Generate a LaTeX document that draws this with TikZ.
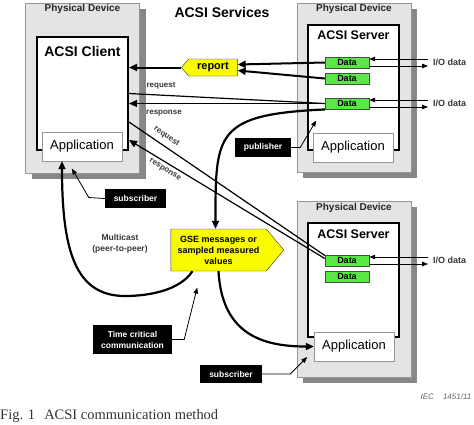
\documentclass[tikz,border=0pt]{standalone}
\usepackage{fontspec}
\setmainfont{Liberation Sans}
\newfontfamily\capfont{Liberation Serif}
\usetikzlibrary{shadows,shapes.symbols}
\usetikzlibrary{arrows.meta}

\definecolor{devgray}{RGB}{228,228,228}
\definecolor{devline}{RGB}{150,150,150}
\definecolor{shadowgray}{RGB}{135,135,135}
\definecolor{datagreen}{RGB}{90,232,70}
\definecolor{gseyellow}{RGB}{250,250,0}
\definecolor{txtgray}{RGB}{55,55,55}

\begin{document}
\begin{tikzpicture}[x=1pt,y=-1pt]
\useasboundingbox (0,0) rectangle (474,424);

\begin{scope}[every node/.style={rectangle,draw=devline,fill=devgray,minimum width=114pt,
              drop shadow={shadow xshift=6pt,shadow yshift=-6pt,fill=shadowgray,opacity=1}}]
    \node [minimum height=170pt] (PD1) at (82.5,88) {};
    \node [minimum height=169pt] (PD2) at (354,87.5) {};
    \node [minimum height=176pt] (PD3) at (354,289) {};
\end{scope}

\begin{scope}[every node/.style={rectangle,draw,line width=2,fill=white,minimum width=91pt}]
    \node [minimum height=113pt] (CL) at (82.5,93.5) {};
    \node [minimum height=125pt] (SV1) at (353.5,87.5) {};
    \node [minimum height=114pt] (SV2) at (353.5,280) {};
\end{scope}

\begin{scope}[every node/.style={rectangle,draw=devline,fill=white,minimum width=80pt,
              minimum height=29pt,font=\fontsize{13}{15}\selectfont}]
    \node (A1) at (82,146.5) {Application};
    \node (A2) at (353,147.5) {Application};
    \node (A3) at (354,346.5) {Application};
\end{scope}

\begin{scope}[every node/.style={rectangle,draw=black!70,fill=datagreen,minimum width=44pt,
              minimum height=11.5pt,inner sep=0pt,font=\fontsize{9}{10}\selectfont\bfseries}]
    \node (D1) at (347,62.5) {Data};
    \node (D2) at (347,78.5) {Data};
    \node (D3) at (347,103.5) {Data};
    \node (D4) at (347,260.5) {Data};
    \node (D5) at (347,276.5) {Data};
\end{scope}

\begin{scope}[every node/.style={font=\fontsize{10}{12}\selectfont\bfseries,text=black!85}]
    \node (PD1t) at (82.5,9) {Physical Device};
    \node (PD2t) at (354,9) {Physical Device};
    \node (PD3t) at (354,207.5) {Physical Device};
\end{scope}

\begin{scope}[every node/.style={font=\fontsize{14}{16}\selectfont\bfseries}]
    \node (T) at (222,12) {ACSI Services};
    \node (CLt) at (82.5,51.5) {ACSI Client};
    \node [font=\fontsize{12.5}{15}\selectfont\bfseries] (SV1t) at (353.5,35) {ACSI Server};
    \node [font=\fontsize{12.5}{15}\selectfont\bfseries] (SV2t) at (353.5,234) {ACSI Server};
\end{scope}

\begin{scope}[every node/.style={signal,draw=black!80,fill=gseyellow,signal pointer angle=100,inner sep=0pt}]
    \node [signal to=west,minimum width=56pt,minimum height=17pt,
           font=\fontsize{11}{13}\selectfont\bfseries] (R) at (213,67.5) {report};
    \node [signal to=east,minimum width=113pt,minimum height=42pt,align=center,
           font=\fontsize{9}{11}\selectfont\bfseries] (G) at (218.5,250) {GSE messages or\\sampled measured\\values};
\end{scope}

\begin{scope}[every node/.style={rectangle,fill=black,text=white,inner sep=0pt,align=center,
              font=\fontsize{8.5}{11}\selectfont\bfseries}]
    \node [minimum width=56pt,minimum height=19pt] (pub) at (263,147.5) {publisher};
    \node [minimum width=61pt,minimum height=19pt] (sub1) at (135.5,198.5) {subscriber};
    \node [minimum width=79pt,minimum height=29pt] (tc) at (132.5,339.5) {Time critical\\communication};
    \node [minimum width=62pt,minimum height=18pt] (sub2) at (231,374) {subscriber};
\end{scope}

\begin{scope}[every node/.style={font=\fontsize{8}{10}\selectfont\bfseries,text=txtgray}]
    \node (rq1) at (161,86) {request};
    \node (rs1) at (164,113) {response};
    \node [rotate=-34] (rq2) at (166.5,136.5) {request};
    \node [rotate=-32] (rs2) at (165,170) {response};
    \node [align=center,font=\fontsize{8.5}{11}\selectfont\bfseries] (mc) at (120,244) {Multicast\\(peer-to-peer)};
    \node [anchor=west,inner sep=0pt,font=\fontsize{9}{11}\selectfont\bfseries] (IO1) at (433,62.5) {I/O data};
    \node [anchor=west,inner sep=0pt,font=\fontsize{9}{11}\selectfont\bfseries] (IO2) at (433,103.5) {I/O data};
    \node [anchor=west,inner sep=0pt,font=\fontsize{9}{11}\selectfont\bfseries] (IO3) at (433,260.5) {I/O data};
\end{scope}

\node [font=\itshape\fontsize{8}{10}\selectfont,text=black!60] (iec) at (446,397) {IEC\hspace{9pt}1451/11};
\node [anchor=base west,inner sep=0pt,text=black!80,font=\capfont\fontsize{14.5}{16}\selectfont] (cap) at (0,419.5) {Fig. 1\hspace{9pt}ACSI communication method};

\begin{scope}[>={Triangle[length=8pt,width=7pt]}]
     \draw [->,line width=2] (D1.west) -- ([yshift=3pt]R.east);
     \draw [->,line width=2] (D2.west) -- ([yshift=-3pt]R.east);
     \draw [->,line width=2] (R.west) -- (CL.east |- R.west);

     \draw [line width=1.2] (CL.east) -- (D3.west);
     \draw [->,line width=1.2] (D3.west) -- (CL.east |- D3.west);
     \draw [line width=1.2] ([yshift=-28.5pt]CL.east) -- ([yshift=5pt]D4.west);
     \draw [->,line width=1.2] ([yshift=2pt]D4.west) -- ([yshift=-46.5pt]CL.east);

     \draw [->,line width=2.2] (D3.south west) .. controls +(-110,5) and +(0,-95) .. ([xshift=-3pt]G.north);
     \draw [->,line width=2.2] ([xshift=-26pt]G.south) .. controls (180,290) and (150,296) .. (125,296)
                               .. controls (75,296) and (62,250) .. ([xshift=-20pt]A1.south);
     \draw [->,line width=2.2] (G.south) .. controls +(3.5,64) and +(-50,0) .. (A3.west);
\end{scope}

\begin{scope}[>={Triangle[length=6pt,width=4.5pt]}]
     \draw [->,line width=0.8] (pub.east) -- ++(9,0) -- ++(16,-27);
     \draw [->,line width=0.8] (sub1.west) -- ++(-16,-1) -- ++(-17,-29);
     \draw [->,line width=0.8] (tc.east) -- ++(12,0) -- ++(13,-52);
     \draw [->,line width=0.8] (sub2.east) -- ++(28,0) -- ++(17,-17);

     \draw [->,line width=0.8] ([xshift=-5pt,yshift=3.5pt]IO1.west) -- ([yshift=3.5pt]D1.east);
     \draw [->,line width=0.8] ([yshift=-3.5pt]D1.east) -- ([xshift=-5pt,yshift=-3.5pt]IO1.west);
     \draw [->,line width=0.8] ([xshift=-5pt,yshift=3.5pt]IO2.west) -- ([yshift=3.5pt]D3.east);
     \draw [->,line width=0.8] ([yshift=-3.5pt]D3.east) -- ([xshift=-5pt,yshift=-3.5pt]IO2.west);
     \draw [->,line width=0.8] ([xshift=-5pt,yshift=3.5pt]IO3.west) -- ([yshift=3.5pt]D4.east);
     \draw [->,line width=0.8] ([yshift=-3.5pt]D4.east) -- ([xshift=-5pt,yshift=-3.5pt]IO3.west);
\end{scope}
\end{tikzpicture}
\end{document}
